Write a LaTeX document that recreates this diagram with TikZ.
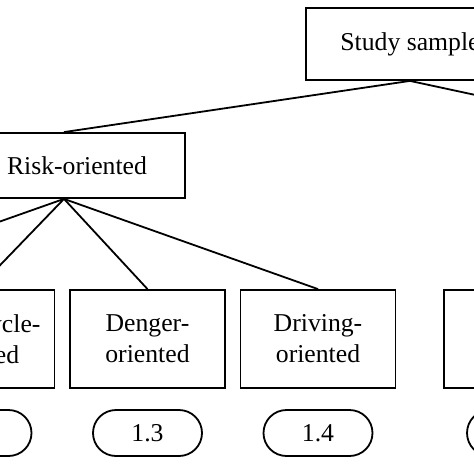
\documentclass[tikz,border=0pt]{standalone}
\usepackage{fontspec}
\setmainfont{Liberation Serif}
\begin{document}
\begin{tikzpicture}[x=1pt,y=-1pt,
  every node/.style={font=\fontsize{25.7}{31}\selectfont},
  box/.style={draw=black, line width=1.8pt, rectangle, inner sep=0pt, align=center},
  pill/.style={draw=black, line width=1.8pt, rectangle, rounded corners=23pt, inner sep=0pt, minimum width=109pt, minimum height=46pt},
  conn/.style={line width=1.8pt, draw=black}]
\useasboundingbox (0,0) rectangle (474,474);
\clip (0,0) rectangle (474,474);
% top level
\node[box, minimum width=208pt, minimum height=72pt] (study) at (410,44) {Study sample};
\coordinate (sr) at (652,133);
% second level
\node[box, minimum width=242pt, minimum height=65pt,
  label={[font=\fontsize{25.7}{31}\selectfont, xshift=13pt]center:Risk-oriented}] (risk) at (64,165.5) {};
\coordinate (c0) at (-194,290);
% third level
\node[box, minimum width=155pt, minimum height=98pt] (circle) at (-23,339) {Motorcycle-\\oriented};
\node[box, minimum width=155pt, minimum height=98pt] (denger) at (147.5,339) {Denger-\\oriented};
\node[box, minimum width=155pt, minimum height=98pt] (driving) at (318,339) {Driving-\\oriented};
\node[box, minimum width=155pt, minimum height=98pt] (fourth) at (521.5,339) {};
% ovals
\node[pill] (o2) at (-23,433) {};
\node[pill] (o3) at (147.5,433) {1.3};
\node[pill] (o4) at (318,433) {1.4};
\node[pill] (o5) at (521.5,433) {};
% connectors
\draw[conn] (study.south) -- (risk.north);
\draw[conn] (study.south) -- (sr);
\draw[conn] (risk.south) -- (c0);
\draw[conn] (risk.south) -- (circle.north);
\draw[conn] (risk.south) -- (denger.north);
\draw[conn] (risk.south) -- (driving.north);
\end{tikzpicture}
\end{document}
